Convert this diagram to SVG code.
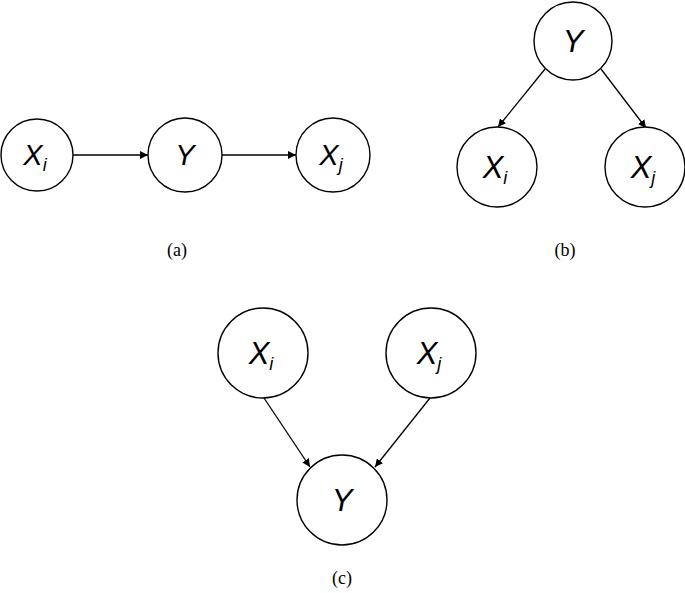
<svg xmlns="http://www.w3.org/2000/svg" width="685" height="593" viewBox="0 0 685 593">
<style>
.n{fill:#fff;stroke:#000;stroke-width:1.4}
.t{font-family:"Liberation Sans",Arial,sans-serif;font-style:italic;font-size:29px;text-anchor:middle;fill:#000}
.l{font-size:31px}
.s{font-size:18px}
.c{font-family:"Liberation Serif","Times New Roman",serif;font-size:18px;text-anchor:middle;fill:#000}
.e{stroke:#000;stroke-width:1.3;fill:none;marker-end:url(#ah)}
</style>
<defs>
<marker id="ah" viewBox="0 0 10 10" refX="10" refY="5" markerWidth="8" markerHeight="8" markerUnits="userSpaceOnUse" orient="auto">
<path d="M0,0 L10,5 L0,10 z" fill="#000"/>
</marker>
</defs>
<g id="connectors">
<line class="e" x1="73" y1="155" x2="148" y2="155"/>
<line class="e" x1="222" y1="155" x2="296" y2="155"/>
<line class="e" x1="545" y1="69" x2="498" y2="127"/>
<line class="e" x1="601" y1="69" x2="646" y2="128"/>
<line class="e" x1="264" y1="398" x2="310" y2="467"/>
<line class="e" x1="430" y1="398" x2="375" y2="467"/>
</g>
<g id="a-xi"><circle class="n" cx="37" cy="155" r="36"/><text class="t" x="35" y="165">X<tspan class="s" dy="6">i</tspan></text></g>
<g id="a-y"><circle class="n" cx="185" cy="155" r="37"/><text class="t" x="185" y="165">Y</text></g>
<g id="a-xj"><circle class="n" cx="333" cy="155" r="37"/><text class="t" x="331" y="165">X<tspan class="s" dy="6">j</tspan></text></g>
<g id="b-y"><circle class="n" cx="573" cy="41" r="39"/><text class="t l" x="573" y="52">Y</text></g>
<g id="b-xi"><circle class="n" cx="497" cy="167" r="40"/><text class="t l" x="495" y="178">X<tspan class="s" dy="6">i</tspan></text></g>
<g id="b-xj"><circle class="n" cx="645" cy="167" r="40"/><text class="t l" x="643" y="178">X<tspan class="s" dy="6">j</tspan></text></g>
<g id="c-xi"><circle class="n" cx="263" cy="353" r="45"/><text class="t l" x="261" y="364">X<tspan class="s" dy="6">i</tspan></text></g>
<g id="c-xj"><circle class="n" cx="431" cy="353" r="45"/><text class="t l" x="429" y="364">X<tspan class="s" dy="6">j</tspan></text></g>
<g id="c-y"><circle class="n" cx="342" cy="500" r="45"/><text class="t l" x="342" y="511">Y</text></g>
<text class="c" x="177" y="256">(a)</text>
<text class="c" x="565" y="256">(b)</text>
<text class="c" x="342" y="584">(c)</text>
</svg>
